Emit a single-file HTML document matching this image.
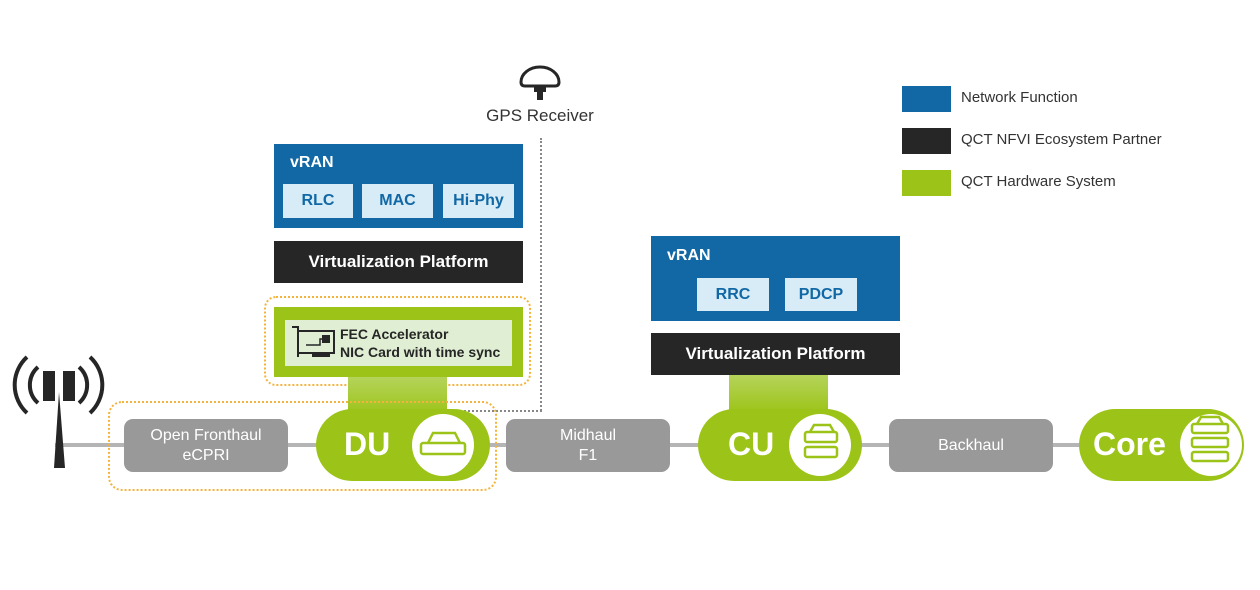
<!DOCTYPE html>
<html><head><meta charset="utf-8"><style>
body{margin:0;width:1260px;height:590px;background:#fff;position:relative;overflow:hidden;font-family:"Liberation Sans","DejaVu Sans",sans-serif}
.a{position:absolute;box-sizing:border-box}
.blue{background:#1168a5}
.dark{background:#262626;color:#fff;font-weight:bold;font-size:17px;display:flex;align-items:center;justify-content:center}
.lb{background:#d7ecf6;color:#1168a5;font-weight:bold;font-size:16px;display:flex;align-items:center;justify-content:center}
.gray{background:#999;color:#fff;font-size:16px;border-radius:9px;display:flex;flex-direction:column;align-items:center;justify-content:center;line-height:20px}
.pill{background:#9cc418;border-radius:36px;color:#fff;font-weight:bold;font-size:32px}
.circ{background:#fff;border-radius:50%;width:62px;height:62px}
.t{color:#fff;font-weight:bold;font-size:16px}
.leg{font-size:15px;color:#333}
</style></head><body>
<div class="a" style="left:55px;top:443px;width:1185px;height:4px;background:#b5b5b5"></div>
<svg class="a" style="left:12px;top:340px" width="96" height="130" viewBox="0 0 96 130">
<path d="M15,17 A38,38 0 0 0 15,73" stroke="#262626" stroke-width="4" fill="none"/>
<path d="M26,27 A24,24 0 0 0 26,63" stroke="#262626" stroke-width="4" fill="none"/>
<path d="M78,17 A38,38 0 0 1 78,73" stroke="#262626" stroke-width="4" fill="none"/>
<path d="M67,27 A24,24 0 0 1 67,63" stroke="#262626" stroke-width="4" fill="none"/>
<rect x="31" y="31" width="12" height="30" fill="#262626"/><rect x="51" y="31" width="12" height="30" fill="#262626"/>
<polygon points="47,52 42,128 53,128" fill="#262626"/>
</svg>
<svg class="a" style="left:515px;top:62px" width="50" height="42" viewBox="0 0 50 42">
<path d="M6,20 A19,15 0 0 1 44,20 Q44,24 40,24 H10 Q6,24 6,20 Z" fill="#fff" stroke="#262626" stroke-width="3"/>
<rect x="19" y="25" width="12" height="5" fill="#262626"/><rect x="22" y="30" width="6" height="8" fill="#262626"/>
</svg>
<div class="a" style="left:470px;top:106px;width:140px;text-align:center;font-size:17px;color:#333">GPS Receiver</div>
<div class="a" style="left:540px;top:138px;width:0;height:273px;border-left:2px dotted #888"></div>
<div class="a" style="left:448px;top:410px;width:94px;height:0;border-top:2px dotted #888"></div>
<div class="a blue" style="left:274px;top:144px;width:249px;height:84px"><div class="a t" style="left:16px;top:10px">vRAN</div></div>
<div class="a lb" style="left:283px;top:184px;width:70px;height:34px">RLC</div>
<div class="a lb" style="left:362px;top:184px;width:71px;height:34px">MAC</div>
<div class="a lb" style="left:443px;top:184px;width:71px;height:34px">Hi-Phy</div>
<div class="a dark" style="left:274px;top:241px;width:249px;height:42px">Virtualization Platform</div>
<div class="a" style="left:264px;top:296px;width:267px;height:90px;border:2.5px dotted #f4b33a;border-radius:12px"></div>
<div class="a" style="left:274px;top:307px;width:249px;height:70px;background:#9cc418"></div>
<div class="a" style="left:285px;top:320px;width:227px;height:46px;background:#e0efd4"></div>
<svg class="a" style="left:290px;top:323px" width="48" height="38" viewBox="0 0 48 38">
<path d="M2,4 H8 V34 M8,8 H44 V30 H8" stroke="#262626" stroke-width="2" fill="none"/>
<rect x="32" y="12" width="8" height="8" fill="#262626"/><path d="M16,22 H30 V16 H32" stroke="#262626" stroke-width="1.5" fill="none"/>
<rect x="22" y="30" width="18" height="4" fill="#262626"/>
</svg>
<div class="a" style="left:340px;top:325px;font-size:14px;font-weight:bold;color:#262626;line-height:18px">FEC Accelerator<br>NIC Card with time sync</div>
<div class="a" style="left:348px;top:377px;width:99px;height:38px;background:linear-gradient(#b5d35a,#9cc418)"></div>
<div class="a" style="left:108px;top:401px;width:389px;height:90px;border:2.5px dotted #f4b33a;border-radius:14px"></div>
<div class="a blue" style="left:651px;top:236px;width:249px;height:85px"><div class="a t" style="left:16px;top:11px">vRAN</div></div>
<div class="a lb" style="left:697px;top:278px;width:72px;height:33px">RRC</div>
<div class="a lb" style="left:785px;top:278px;width:72px;height:33px">PDCP</div>
<div class="a dark" style="left:651px;top:333px;width:249px;height:42px">Virtualization Platform</div>
<div class="a" style="left:729px;top:375px;width:99px;height:38px;background:linear-gradient(#b5d35a,#9cc418)"></div>
<div class="a gray" style="left:124px;top:419px;width:164px;height:53px"><div>Open Fronthaul</div><div>eCPRI</div></div>
<div class="a gray" style="left:506px;top:419px;width:164px;height:53px"><div>Midhaul</div><div>F1</div></div>
<div class="a gray" style="left:889px;top:419px;width:164px;height:53px"><div>Backhaul</div></div>
<div class="a pill" style="left:316px;top:409px;width:174px;height:72px"><div class="a" style="left:28px;top:17px">DU</div><div class="a circ" style="left:96px;top:5px"></div></div>
<div class="a pill" style="left:698px;top:409px;width:164px;height:72px"><div class="a" style="left:30px;top:17px">CU</div><div class="a circ" style="left:91px;top:5px"></div></div>
<div class="a pill" style="left:1079px;top:409px;width:165px;height:72px"><div class="a" style="left:14px;top:17px">Core</div><div class="a circ" style="left:101px;top:5px"></div></div>
<svg class="a" style="left:0;top:0" width="1260" height="590">
<g fill="none" stroke="#9cc418" stroke-width="2.5">
<path d="M428,443 L433,433 H455 L460,443"/><rect x="421" y="443" width="44" height="11" rx="2"/>
<path d="M810,432 L814,425 H830 L834,432"/><rect x="805" y="432" width="32" height="10" rx="2"/><rect x="805" y="447" width="32" height="10" rx="2"/>
<path d="M1197,424 L1201,417 H1219 L1223,424"/><rect x="1192" y="424" width="36" height="9" rx="2"/><rect x="1192" y="438" width="36" height="9" rx="2"/><rect x="1192" y="452" width="36" height="9" rx="2"/>
</g></svg>
<div class="a blue" style="left:902px;top:86px;width:49px;height:26px"></div>
<div class="a" style="left:902px;top:128px;width:49px;height:26px;background:#262626"></div>
<div class="a" style="left:902px;top:170px;width:49px;height:26px;background:#9cc418"></div>
<div class="a leg" style="left:961px;top:89px">Network Function</div>
<div class="a leg" style="left:961px;top:131px">QCT NFVI Ecosystem Partner</div>
<div class="a leg" style="left:961px;top:173px">QCT Hardware System</div>
</body></html>
